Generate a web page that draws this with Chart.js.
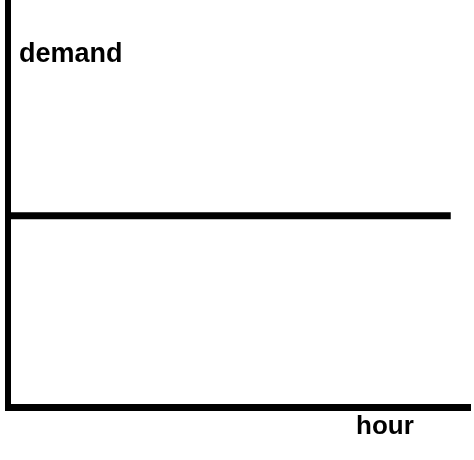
<!DOCTYPE html>
<html>
<head>
<meta charset="utf-8">
<script src="https://cdn.jsdelivr.net/npm/chart.js@4"></script>
<style>
	html, body { margin: 0; padding: 0; background: #fff; }
	#wrap { width: 474px; height: 460px; }
</style>
</head>
<body>
<div id="wrap"><canvas id="demandChart"></canvas></div>
<script>
// datos del gráfico
const hours = [0, 23];
const demand = [4.7, 4.7];
const xRange = [0, 24];
const yRange = [0, 10];
const yLabel = 'demand';
const xLabel = 'hour';

// etiquetas de los ejes dibujadas a mano (posición libre)
const axisLabels = {
	id: 'axisLabels',
	afterDraw(chart) {
		const { ctx, chartArea } = chart;
		ctx.save();
		ctx.fillStyle = '#000';
		ctx.textBaseline = 'alphabetic';
		ctx.textAlign = 'left';
		ctx.font = 'bold 27px "Liberation Sans", Arial, sans-serif';
		ctx.fillText(yLabel, chartArea.left + 11, 62);
		ctx.font = 'bold 26px "Liberation Sans", Arial, sans-serif';
		ctx.fillText(xLabel, 356, chartArea.bottom + 27);
		ctx.restore();
	},
};

const ctx = document.getElementById('demandChart').getContext('2d');
new Chart(ctx, {
	type: 'line',
	data: {
		datasets: [
			{
				data: hours.map((h, i) => ({ x: h, y: demand[i] })),
				borderColor: '#000',
				borderWidth: 7,
				pointRadius: 0,
				borderCapStyle: 'butt',
			},
		],
	},
	options: {
		responsive: true,
		maintainAspectRatio: false,
		animation: false,
		layout: {
			padding: { left: 8, right: 4, top: 0, bottom: 53 },
		},
		plugins: {
			legend: { display: false },
			tooltip: { enabled: false },
		},
		scales: {
			x: {
				type: 'linear',
				min: xRange[0],
				max: xRange[1],
				ticks: { display: false },
				grid: { display: false, drawTicks: false },
				border: { display: true, color: '#000', width: 7 },
			},
			y: {
				min: yRange[0],
				max: yRange[1],
				ticks: { display: false },
				grid: { display: false, drawTicks: false },
				border: { display: true, color: '#000', width: 6 },
			},
		},
	},
	plugins: [axisLabels],
});
</script>
</body>
</html>
